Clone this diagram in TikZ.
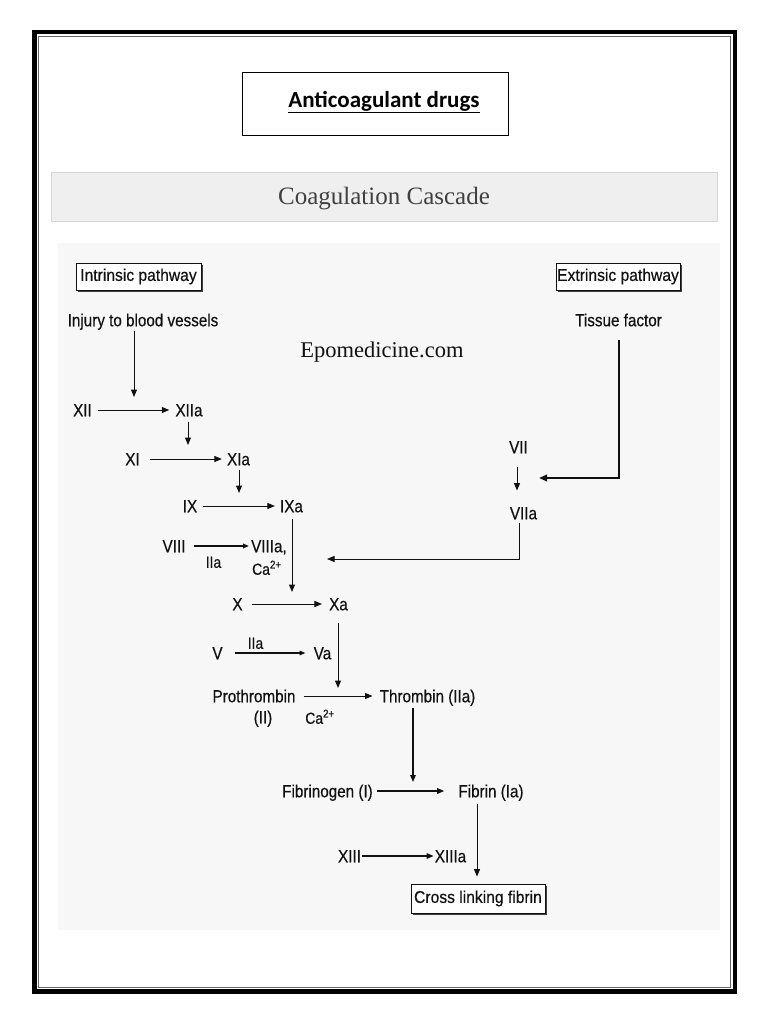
\documentclass[tikz,border=0pt]{standalone}
\usepackage{fontspec}
\setmainfont{Liberation Serif}
\newfontfamily\dfont[FakeStretch=0.87,FakeBold=0.4]{Liberation Sans}
\newfontfamily\bfont[FakeStretch=0.92,FakeBold=0.4]{Liberation Sans}
\newfontfamily\tfont{Carlito}
\usetikzlibrary{arrows.meta,shadows}
\definecolor{diagbg}{HTML}{F7F7F7}
\definecolor{bandfill}{HTML}{EFEFEF}
\definecolor{bandline}{HTML}{D6D6D6}
\definecolor{bandtext}{HTML}{404040}
\definecolor{ink}{HTML}{111111}
\tikzset{
  lbl/.style={font=\dfont\fontsize{17.5}{20}\selectfont, inner sep=0pt, text height=12.5pt, text depth=0pt, text=ink},
  sml/.style={lbl, font=\dfont\fontsize{16}{18}\selectfont, text height=11.5pt},
  pbox/.style={draw=ink, line width=0.8pt, fill=white, inner sep=0pt, font=\bfont\fontsize{17}{20}\selectfont, text=ink,
    drop shadow={shadow xshift=1.5pt, shadow yshift=-1.8pt, fill=black!75, opacity=1}},
  arr/.style={draw=ink, -{Triangle[length=7.5pt,width=6pt]}, line width=1pt},
  thk/.style={arr, line width=2.2pt, -{Triangle[length=6pt,width=4.5pt]}},
  med/.style={arr, line width=1.5pt, -{Triangle[length=7pt,width=5.5pt]}}
}
\begin{document}
\begin{tikzpicture}[x=1pt,y=-1pt]
\useasboundingbox (0,0) rectangle (768,1024);
\fill[white] (0,0) rectangle (768,1024);
% page border
\draw[line width=4.5pt, black] (34.3,32) rectangle (735,991.5);
\draw[line width=0.8pt, black!60] (38,36) rectangle (730.7,987);
% title
\draw[line width=0.8pt] (242,72) rectangle (508,135);
\node[font=\tfont\bfseries\fontsize{23}{28}\selectfont, inner sep=0pt] (title) at (384,102) {\underline{Anticoagulant drugs}};
% band
\draw[fill=bandfill, draw=bandline, line width=1pt] (51,173) rectangle (717,222);
\node[font=\fontsize{25}{30}\selectfont, text=bandtext] (band) at (384,199) {Coagulation Cascade};
% diagram background
\fill[diagbg] (58,243) rectangle (720,930);

\node[font=\fontsize{22.5}{26}\selectfont, text=ink] (epo) at (382,352) {Epomedicine.com};

% boxes
\node[pbox, minimum width=125pt, minimum height=27pt] (intr) at (138.5,276.5) {Intrinsic pathway};
\node[pbox, minimum width=124pt, minimum height=27pt] (extr) at (618,276.5) {Extrinsic pathway};
\node[pbox, minimum width=134pt, minimum height=29pt] (cross) at (478,898.5) {Cross linking fibrin};

% labels
\node[lbl] (injury) at (143,320) {Injury to blood vessels};
\node[lbl] (xii) at (82.5,410) {XII};
\node[lbl] (xiia) at (189,410) {XIIa};
\node[lbl] (xi) at (132.5,459) {XI};
\node[lbl] (xia) at (238.5,459) {XIa};
\node[lbl] (ix) at (190,506) {IX};
\node[lbl] (ixa) at (291.5,506) {IXa};
\node[lbl] (viii) at (174,546) {VIII};
\node[sml] (iia1) at (213.5,562) {IIa};
\node[lbl, anchor=west] (viiia) at (251,546) {VIIIa,};
\node[sml, anchor=west] (ca1) at (252,569) {Ca\textsuperscript{2+}};
\node[lbl] (x) at (237.5,604) {X};
\node[lbl] (xa) at (338.5,604) {Xa};
\node[lbl] (v) at (217.5,653) {V};
\node[sml] (iia2) at (255.5,643) {IIa};
\node[lbl] (va) at (322.5,653) {Va};
\node[lbl] (pro) at (254,696) {Prothrombin};
\node[lbl] (proii) at (263,717) {(II)};
\node[sml] (ca2) at (320,718) {Ca\textsuperscript{2+}};
\node[lbl] (thr) at (427.5,696) {Thrombin (IIa)};
\node[lbl] (fbg) at (327.5,791) {Fibrinogen (I)};
\node[lbl] (fbn) at (491,791) {Fibrin (Ia)};
\node[lbl] (xiii) at (349.5,856) {XIII};
\node[lbl] (xiiia) at (450.5,856) {XIIIa};
\node[lbl] (tissue) at (618.5,320) {Tissue factor};
\node[lbl] (vii) at (518.5,447) {VII};
\node[lbl] (viia) at (523.5,513) {VIIa};

% coordinates for free arrow ends
\coordinate (m1) at (134,397);
\coordinate (m2) at (188,445);
\coordinate (m3) at (239,493);
\coordinate (m4) at (292,592);
\coordinate (m5) at (338,688);
\coordinate (m6) at (413,782);
\coordinate (c1) at (519,559);
\coordinate (m7) at (327,559);
\coordinate (c2) at (619,478);
\coordinate (m8) at (539,478);
\coordinate (fx) at (477,0);
\coordinate (vx) at (517,0);

% vertical arrows
\draw[arr, shorten <=4.5pt] (injury.south -| m1) -- (m1);
\draw[arr, shorten <=5.5pt] (xiia.south -| m2) -- (m2);
\draw[arr, shorten <=4.5pt] (xia.south -| m3) -- (m3);
\draw[arr, shorten <=6.5pt] (ixa.south -| m4) -- (m4);
\draw[arr, shorten <=12.5pt] (xa.south -| m5) -- (m5);
\draw[med, shorten <=5.5pt] (thr.south -| m6) -- (m6);
\draw[arr, shorten <=6.5pt, shorten >=7pt] (fbn.south -| fx) -- (cross.north -| fx);
\draw[arr, shorten <=13.5pt, shorten >=16pt] (vii.south -| vx) -- (viia.north -| vx);
\draw[arr, shorten <=3.5pt] (viia.south -| c1) -- (c1) -- (m7);
\draw[thk, line width=1.8pt, -{Triangle[length=8pt,width=6.5pt]}, shorten <=13.5pt] (tissue.south -| c2) -- (c2) -- (m8);

% horizontal arrows
\draw[arr, shorten <=6pt, shorten >=6pt] (xii.east) -- (xiia.west);
\draw[arr, shorten <=10pt, shorten >=5pt] (xi.east) -- (xia.west);
\draw[arr, shorten <=6pt, shorten >=5pt] (ix.east) -- (ixa.west);
\draw[thk, shorten <=8pt, shorten >=2pt] (viii.east) -- (viiia.west);
\draw[arr, shorten <=9pt, shorten >=7pt] (x.east) -- (xa.west);
\draw[thk, line width=1.8pt, shorten <=12pt, shorten >=8pt] (v.east) -- (va.west);
\draw[arr, shorten <=8pt, shorten >=7pt] (pro.east) -- (thr.west);
\draw[med, shorten <=4pt, shorten >=14pt] (fbg.east) -- (fbn.west);
\draw[med, shorten <=1pt, shorten >=1pt] (xiii.east) -- (xiiia.west);
\end{tikzpicture}
\end{document}
